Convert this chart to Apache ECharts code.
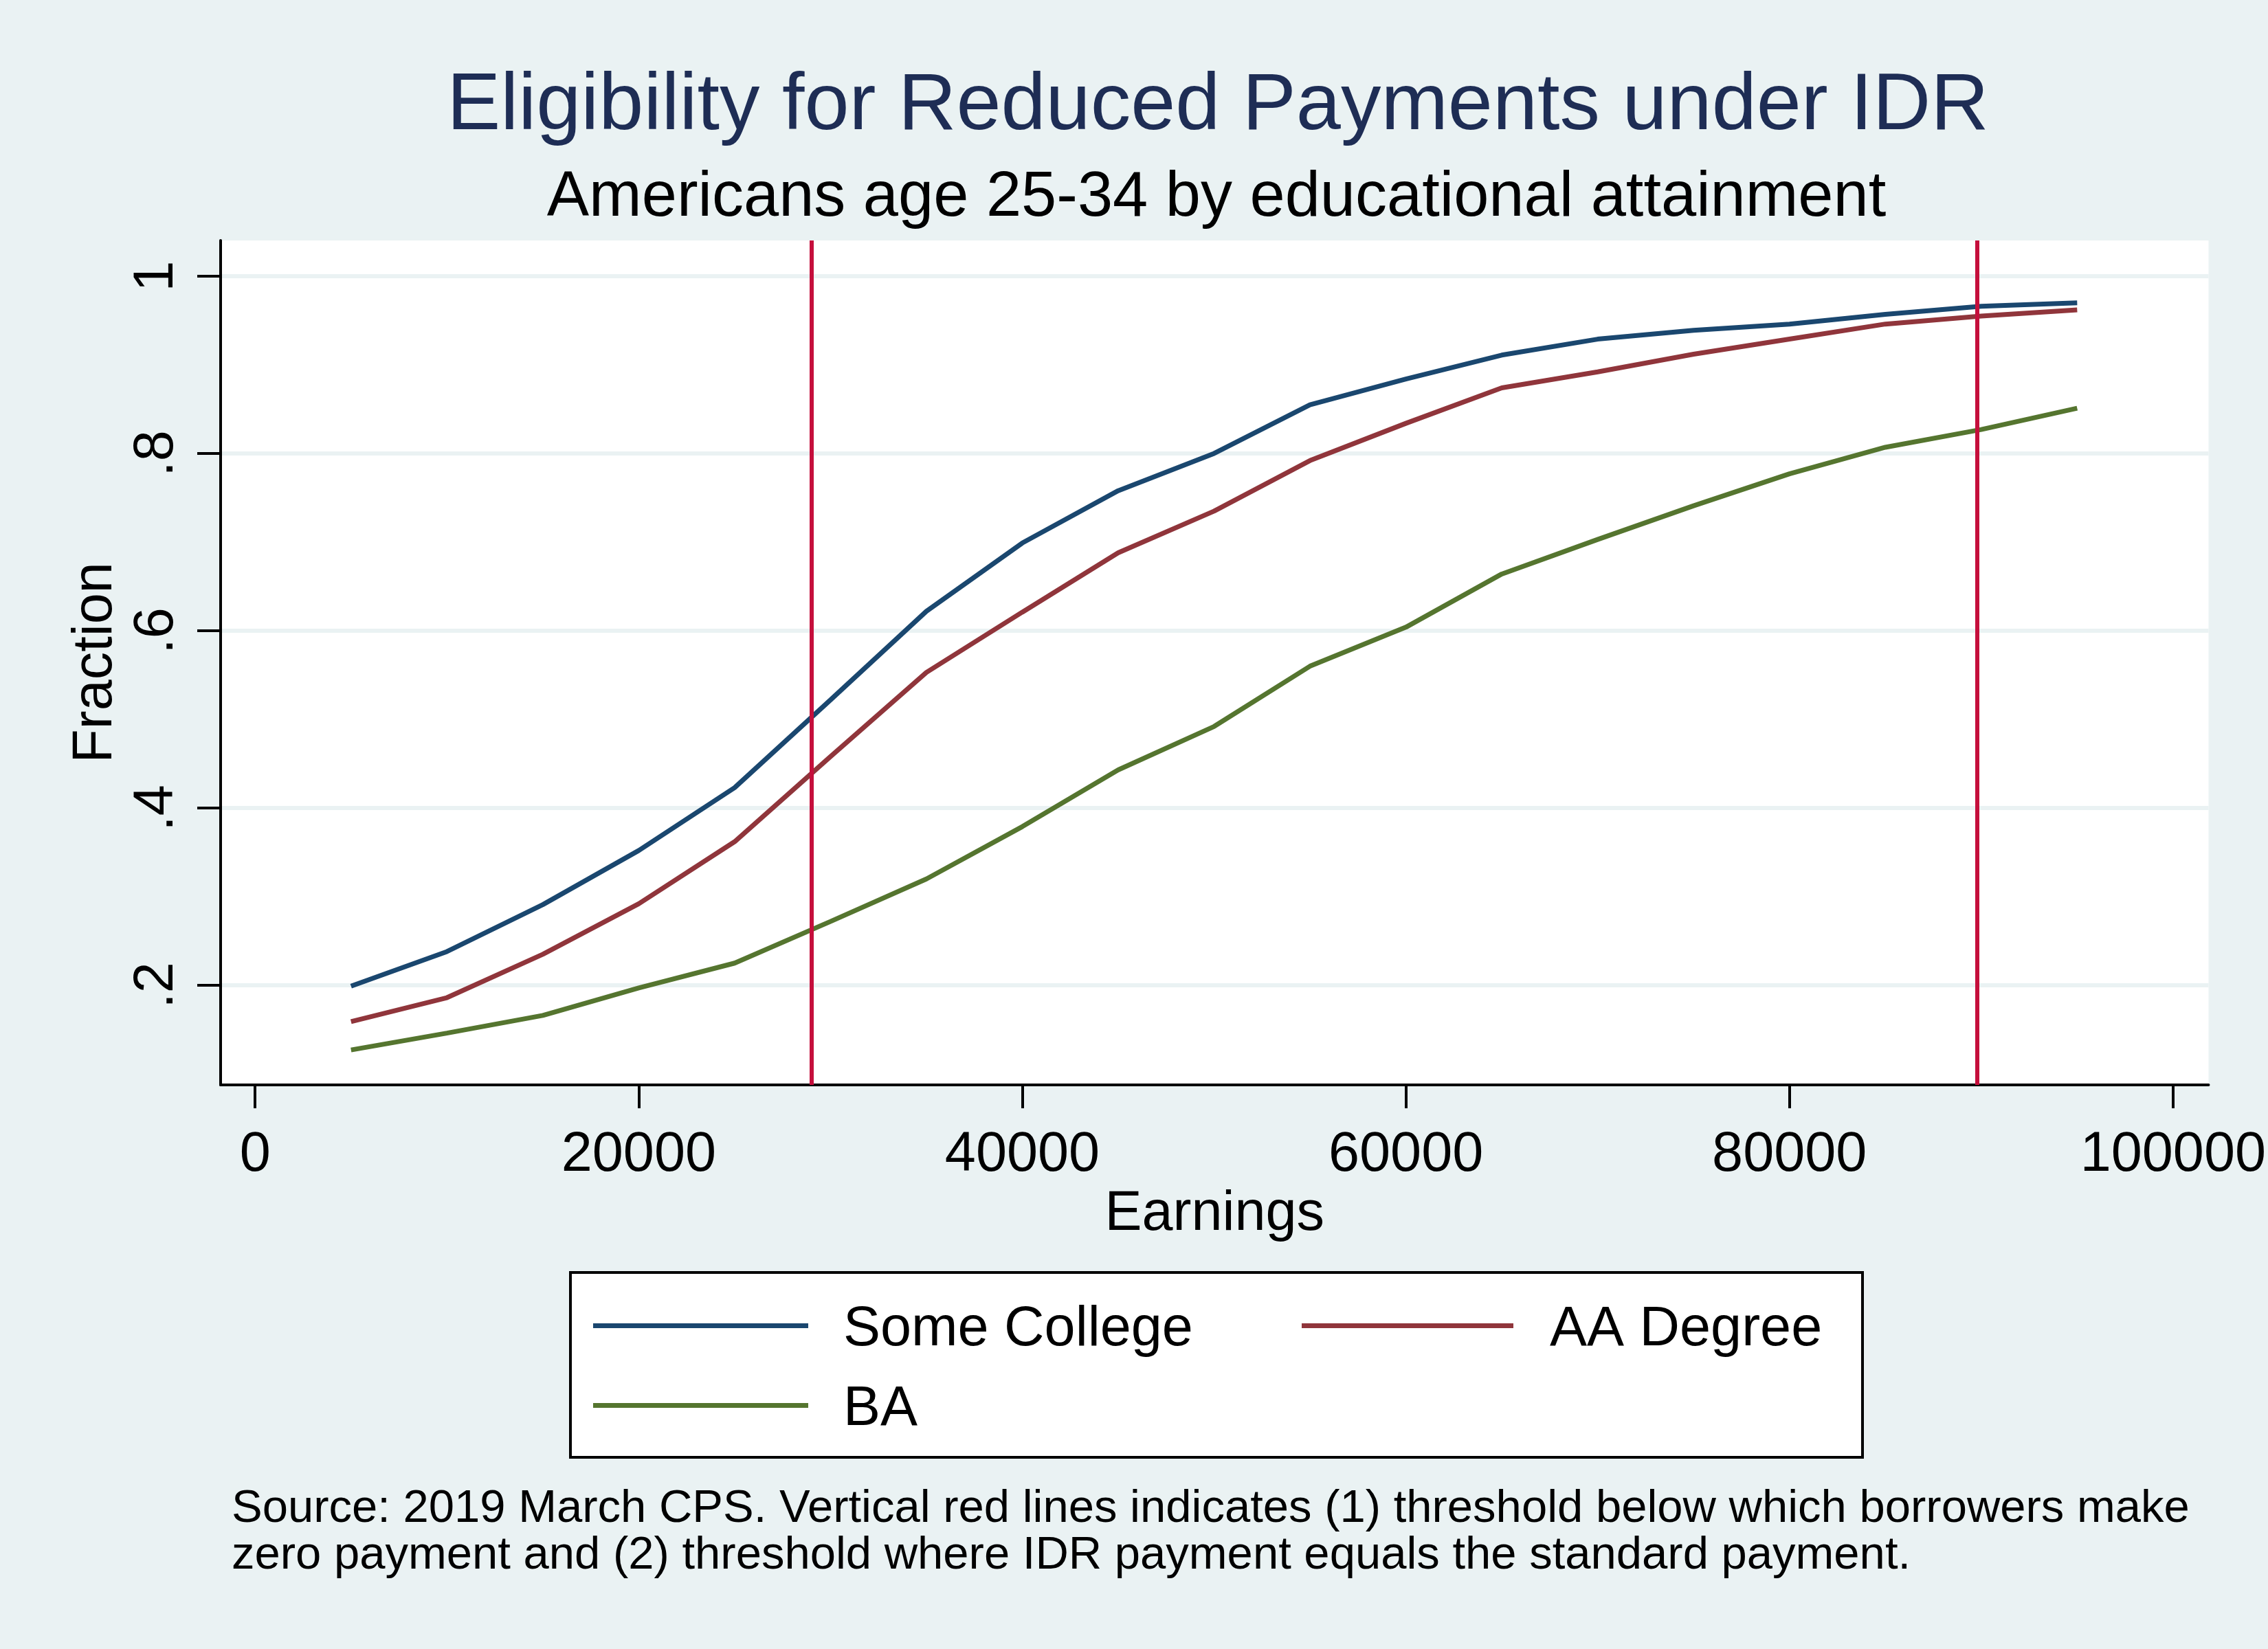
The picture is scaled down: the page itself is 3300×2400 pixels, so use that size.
<!DOCTYPE html>
<html>
<head>
<meta charset="utf-8">
<script src="https://cdn.jsdelivr.net/npm/echarts@6.0.0/dist/echarts.min.js"></script>
<style>
  html, body { margin: 0; padding: 0; background: #EAF2F3; }
  #chart { width: 3300px; height: 2400px; }
</style>
</head>
<body>
<div id="chart"></div>
<script>
// earnings bins (x) and share of each group at or below that level
var earnings = [5000, 10000, 15000, 20000, 25000, 30000, 35000, 40000, 45000, 50000,
                55000, 60000, 65000, 70000, 75000, 80000, 85000, 90000, 95000];
var someCollege = [0.199, 0.238, 0.291, 0.352, 0.423, 0.522, 0.622, 0.699, 0.758, 0.800,
                   0.855, 0.884, 0.911, 0.929, 0.939, 0.946, 0.957, 0.966, 0.970];
var aaDegree = [0.159, 0.186, 0.235, 0.292, 0.362, 0.458, 0.553, 0.621, 0.688, 0.735,
                0.792, 0.834, 0.874, 0.892, 0.912, 0.929, 0.946, 0.955, 0.962];
var baDegree = [0.127, 0.146, 0.166, 0.197, 0.225, 0.272, 0.320, 0.379, 0.443, 0.492,
                0.560, 0.604, 0.664, 0.703, 0.741, 0.777, 0.807, 0.827, 0.851];
var thresholds = [29000, 89800];
var xTicks = [0, 20000, 40000, 60000, 80000, 100000];
var yTicks = [0.2, 0.4, 0.6, 0.8, 1];

function pairs(ys) {
  return earnings.map(function (x, i) { return [x, ys[i]]; });
}

var FONT = '"Liberation Sans", Arial, sans-serif';
var chart = echarts.init(document.getElementById('chart'));

// legend label, nudged down a little so it sits on the sample line like Stata's
function legendText(gap) {
  return {
    fontFamily: FONT, fontSize: 81, color: '#000', lineHeight: 81,
    rich: { t: { fontFamily: FONT, fontSize: 81, color: '#000', lineHeight: 81, padding: [12, 0, 0, gap] } }
  };
}

var option = {
  animation: false,
  backgroundColor: '#EAF2F3',
  textStyle: { fontFamily: FONT },
  title: [
    {
      text: 'Eligibility for Reduced Payments under IDR',
      left: 1772, top: 97, textAlign: 'center', padding: 0,
      textStyle: { fontFamily: FONT, fontSize: 117, fontWeight: 'normal', color: '#1E2D55', lineHeight: 117 }
    },
    {
      text: 'Americans age 25-34 by educational attainment',
      left: 1770, top: 243, textAlign: 'center', padding: 0,
      textStyle: { fontFamily: FONT, fontSize: 92, fontWeight: 'normal', color: '#000', lineHeight: 92 }
    },
    {
      // note under the legend
      text: 'Source: 2019 March CPS. Vertical red lines indicates (1) threshold below which borrowers make\n' +
            'zero payment and (2) threshold where IDR payment equals the standard payment.',
      left: 337, top: 2163, padding: 0,
      textStyle: { fontFamily: FONT, fontSize: 67, fontWeight: 'normal', color: '#000', lineHeight: 68 }
    }
  ],
  graphic: [
    {
      type: 'rect', z: 0,
      shape: { x: 830, y: 1852, width: 1880, height: 269 },
      style: { fill: '#fff', stroke: '#000', lineWidth: 4 }
    }
  ],
  legend: [
    {
      data: ['Some College'], left: 863, top: 1883, padding: 0,
      icon: 'rect', itemWidth: 313, itemHeight: 7,
      formatter: '{t|{name}}', textStyle: legendText(46)
    },
    {
      data: ['AA Degree'], left: 1894, top: 1883, padding: 0,
      icon: 'rect', itemWidth: 308, itemHeight: 7,
      formatter: '{t|{name}}', textStyle: legendText(48)
    },
    {
      data: ['BA'], left: 863, top: 1999, padding: 0,
      icon: 'rect', itemWidth: 313, itemHeight: 7,
      formatter: '{t|{name}}', textStyle: legendText(46)
    }
  ],
  grid: {
    left: 321, right: 81, top: 350, bottom: 821,
    show: true, backgroundColor: '#fff', borderWidth: 0
  },
  xAxis: {
    type: 'value',
    min: -1800, max: 101850,
    name: 'Earnings', nameLocation: 'middle', nameGap: 142,
    nameTextStyle: { fontFamily: FONT, fontSize: 81, color: '#000', lineHeight: 81 },
    axisLine: { show: true, onZero: false, lineStyle: { color: '#000', width: 4 } },
    axisTick: { show: true, length: 34, lineStyle: { color: '#000', width: 4 }, customValues: xTicks },
    axisLabel: {
      customValues: xTicks, margin: 62,
      fontFamily: FONT, fontSize: 81, color: '#000', lineHeight: 81,
      formatter: function (v) { return String(v); }
    },
    splitLine: { show: false }
  },
  yAxis: {
    type: 'value',
    min: 0.0876, max: 1.0403,
    name: 'Fraction', nameLocation: 'middle', nameGap: 137, nameRotate: 90,
    nameTextStyle: { fontFamily: FONT, fontSize: 81, color: '#000', lineHeight: 81 },
    axisLine: { show: true, onZero: false, lineStyle: { color: '#000', width: 4 } },
    axisTick: { show: true, length: 34, lineStyle: { color: '#000', width: 4 }, customValues: yTicks },
    axisLabel: {
      customValues: yTicks, margin: 52, rotate: 90,
      fontFamily: FONT, fontSize: 81, color: '#000', lineHeight: 81,
      formatter: function (v) { return v === 1 ? '1' : String(+v.toFixed(1)).replace(/^0/, ''); }
    },
    splitLine: { show: true, lineStyle: { color: '#EAF2F3', width: 6 } }
  },
  series: [
    {
      name: 'Some College', type: 'line', data: pairs(someCollege),
      showSymbol: false, color: '#1A476F', lineStyle: { width: 7 }, z: 3,
      markLine: {
        silent: true, symbol: ['none', 'none'], label: { show: false },
        lineStyle: { color: '#C50F3C', width: 6, type: 'solid' },
        data: thresholds.map(function (t) { return { xAxis: t }; })
      }
    },
    {
      name: 'AA Degree', type: 'line', data: pairs(aaDegree),
      showSymbol: false, color: '#90353B', lineStyle: { width: 7 }, z: 3
    },
    {
      name: 'BA', type: 'line', data: pairs(baDegree),
      showSymbol: false, color: '#55752F', lineStyle: { width: 7 }, z: 3
    }
  ]
};

chart.setOption(option);
</script>
</body>
</html>
